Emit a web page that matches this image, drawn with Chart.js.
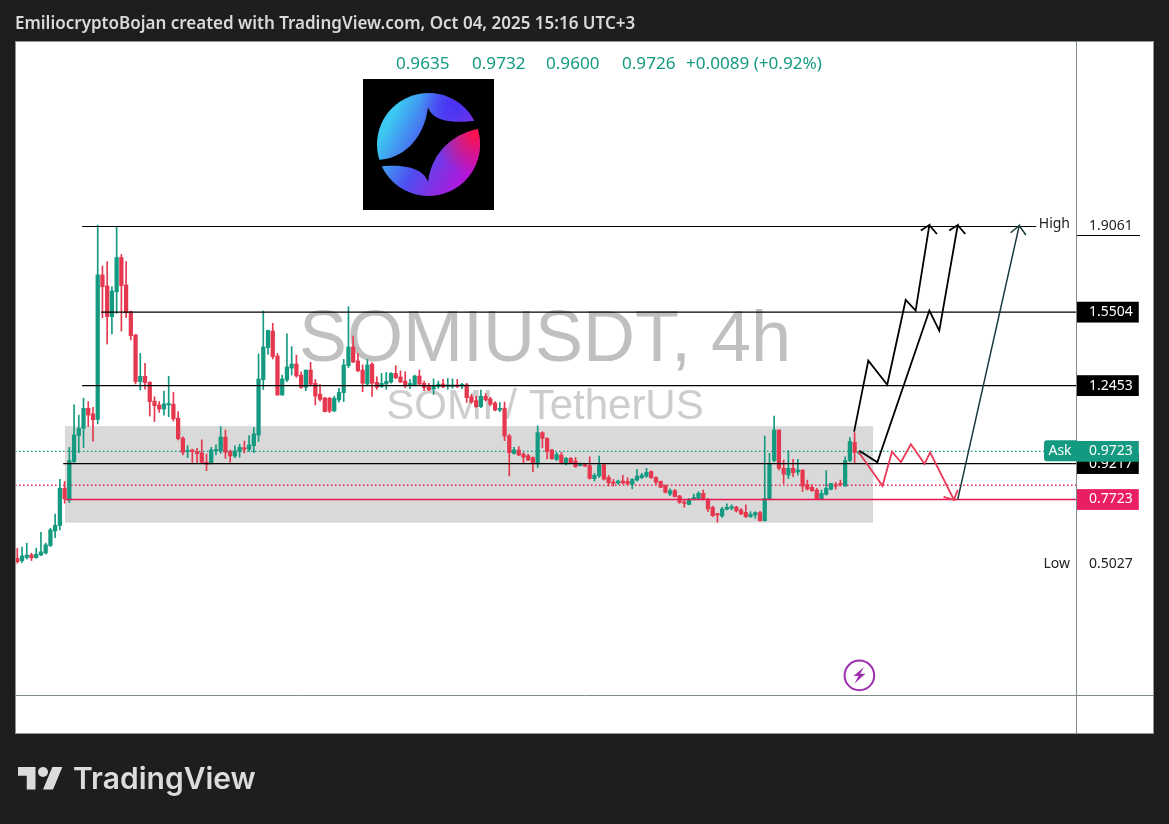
<!DOCTYPE html>
<html>
<head>
<meta charset="utf-8">
<title>SOMIUSDT, 4h</title>
<script src="https://cdn.jsdelivr.net/npm/chart.js@4/dist/chart.umd.min.js"></script>
<style>
  html, body { margin: 0; padding: 0; background: #1e1e1e; }
  #wrap { position: relative; width: 1169px; height: 824px; overflow: hidden; font-family: "Noto Sans", sans-serif; }
  canvas { position: absolute; left: 0; top: 0; }
  .abs { position: absolute; white-space: nowrap; }
  #credit { left: 15px; top: 11px; font-size: 17px; font-weight: 600; color: #d9d9d9; line-height: 24px; }
  .ohlc { top: 51px; font-size: 17.1px; color: #149a80; line-height: 24px; }
  #brand { left: 73px; top: 758px; font-family: Inter, sans-serif; font-size: 30px; font-weight: 600; color: #dcdcdc; line-height: 40px; }
</style>
</head>
<body>
<div id="wrap">
  <canvas id="mainChart" width="1169" height="824"></canvas>
  <div class="abs" id="credit">EmiliocryptoBojan created with TradingView.com, Oct 04, 2025 15:16 UTC+3</div>
  <div class="abs ohlc" style="left:396px">0.9635</div>
  <div class="abs ohlc" style="left:472px">0.9732</div>
  <div class="abs ohlc" style="left:546px">0.9600</div>
  <div class="abs ohlc" style="left:622px">0.9726</div>
  <div class="abs ohlc" style="left:686px">+0.0089 (+0.92%)</div>

  <!-- token logo -->
  <svg class="abs" style="left:363px;top:79px" width="131" height="131" viewBox="363 79 131 131">
    <defs>
      <linearGradient id="lg" gradientUnits="userSpaceOnUse" x1="385" y1="130" x2="470" y2="175">
        <stop offset="0" stop-color="#3cc8f2"/>
        <stop offset="0.45" stop-color="#4c50f0"/>
        <stop offset="1" stop-color="#b812d8"/>
      </linearGradient>
      <radialGradient id="rg" gradientUnits="userSpaceOnUse" cx="476" cy="134" r="42">
        <stop offset="0" stop-color="#ff1048"/>
        <stop offset="1" stop-color="#ff1048" stop-opacity="0"/>
      </radialGradient>
      <radialGradient id="bg" gradientUnits="userSpaceOnUse" cx="455" cy="104" r="34">
        <stop offset="0" stop-color="#4a30f4"/>
        <stop offset="1" stop-color="#4a30f4" stop-opacity="0"/>
      </radialGradient>
      <clipPath id="low"><rect x="363" y="124" width="131" height="86"/></clipPath>
    </defs>
    <rect x="363" y="79" width="131" height="131" fill="#000"/>
    <circle cx="428.5" cy="144.5" r="51.5" fill="url(#lg)"/>
    <circle cx="428.5" cy="144.5" r="51.5" fill="url(#bg)"/>
    <circle cx="428.5" cy="144.5" r="51.5" fill="url(#rg)" clip-path="url(#low)"/>
    <path d="M428 107 C432 119 446 125 482 120 L482 128 C456 132 432 150 428 182 C424 170 408 163 376 167 L376 160 C402 160 424 140 428 107 Z" fill="#000"/>
  </svg>

  <!-- lightning mark -->
  <svg class="abs" style="left:843px;top:659px" width="33" height="33" viewBox="0 0 33 33">
    <circle cx="16.4" cy="16.4" r="14.8" fill="#fff" stroke="#9c2fae" stroke-width="2"/>
    <path d="M21 8 L10.5 17 L15.5 17 L11.5 24.5 L22.5 14.8 L17.2 14.8 Z" fill="#9c2fae"/>
  </svg>

  <!-- TradingView mark -->
  <svg class="abs" style="left:18px;top:762px" width="45" height="35" viewBox="0 0 36 28">
    <path d="M14 22H7V11H0V4h14v18zM28 22h-8l7.5-18h8L28 22z" fill="#dcdcdc"/>
    <circle cx="20" cy="8" r="4" fill="#dcdcdc"/>
  </svg>
  <div class="abs" id="brand">TradingView</div>
</div>

<script>
// ——— DATA ———
const opens = [
  .528,.518,.531,.542,.531,.542,.550,.581,.642,.664,
  .819,.770,.930,1.038,1.068,1.151,1.128,1.105,1.705,1.659,
  1.532,1.635,1.777,1.663,1.552,1.456,1.262,1.284,1.259,1.181,
  1.165,1.148,1.165,1.168,1.110,1.027,.971,.977,.971,.966,
  .927,.923,.974,.974,1.032,.971,.953,.971,.985,.981,
  .996,1.040,1.270,1.403,1.472,1.368,1.206,1.269,1.318,1.335,
  1.289,1.238,1.310,1.255,1.210,1.194,1.193,1.140,1.186,1.216,
  1.328,1.406,1.348,1.310,1.252,1.334,1.259,1.241,1.252,1.260,
  1.296,1.281,1.264,1.248,1.246,1.285,1.255,1.241,1.231,1.241,
  1.252,1.242,1.242,1.248,1.244,1.249,1.199,1.183,1.158,1.201,
  1.190,1.173,1.144,1.152,1.036,.964,.978,.961,.954,.946,
  .920,1.050,1.026,.978,.939,.957,.920,.943,.932,.913,
  .916,.913,.859,.870,.916,.864,.844,.841,.849,.848,
  .835,.853,.863,.869,.888,.864,.848,.830,.795,.809,
  .787,.762,.752,.773,.774,.798,.773,.740,.709,.704,
  .732,.736,.741,.729,.719,.701,.708,.718,.684,.774,
  .934,1.061,.902,.874,.902,.887,.895,.835,.823,.812,
  .774,.794,.815,.833,.837,.828,.934,1.010,.9635
];
const closes = [
  .514,.538,.542,.530,.545,.555,.584,.646,.665,.819,
  .775,.934,1.040,1.068,1.151,1.123,1.104,1.705,1.656,1.532,
  1.638,1.777,1.660,1.548,1.453,1.262,1.284,1.258,1.179,1.162,
  1.148,1.169,1.169,1.107,1.025,.968,.977,.971,.963,.927,
  .919,.978,.978,1.032,.968,.953,.974,.989,.981,.999,
  1.045,1.273,1.406,1.474,1.366,1.206,1.273,1.323,1.335,1.285,
  1.238,1.310,1.251,1.202,1.188,1.137,1.140,1.193,1.217,1.331,
  1.406,1.343,1.307,1.255,1.331,1.255,1.238,1.255,1.263,1.296,
  1.278,1.260,1.244,1.252,1.285,1.252,1.237,1.228,1.244,1.252,
  1.240,1.245,1.245,1.242,1.248,1.195,1.177,1.158,1.201,1.186,
  1.168,1.144,1.151,1.036,.967,.978,.957,.948,.936,.925,
  1.050,1.026,.971,.942,.959,.923,.943,.925,.909,.918,
  .911,.860,.873,.916,.857,.842,.839,.849,.841,.837,
  .856,.869,.874,.885,.862,.844,.823,.802,.809,.784,
  .761,.756,.773,.781,.798,.773,.733,.705,.708,.733,
  .740,.741,.725,.712,.701,.711,.718,.684,.777,.923,
  1.061,.902,.878,.902,.884,.895,.828,.816,.809,.773,
  .798,.819,.839,.828,.833,.934,1.013,.968,.9726
];
const highs = [
  .570,.575,.591,.549,.570,.636,.591,.653,.712,.856,
  .847,.989,1.165,1.123,1.193,1.179,1.155,1.912,1.742,1.760,
  1.656,1.907,1.790,1.760,1.555,1.458,1.379,1.338,1.262,1.199,
  1.179,1.223,1.284,1.217,1.137,1.033,.996,.982,.985,1.020,
  .961,.989,.999,1.075,1.061,.978,.995,1.002,1.015,1.038,
  1.071,1.377,1.555,1.476,1.504,1.379,1.289,1.460,1.407,1.372,
  1.303,1.310,1.342,1.271,1.251,1.197,1.197,1.202,1.234,1.354,
  1.573,1.451,1.379,1.331,1.354,1.341,1.282,1.296,1.300,1.299,
  1.328,1.307,1.303,1.271,1.289,1.310,1.264,1.255,1.273,1.264,
  1.271,1.275,1.273,1.271,1.255,1.255,1.209,1.202,1.227,1.213,
  1.197,1.179,1.175,1.177,1.043,.989,.992,.967,.960,.950,
  1.078,1.054,1.029,.981,.968,.968,.947,.947,.947,.925,
  .920,.950,.881,.953,.918,.873,.856,.853,.873,.863,
  .859,.898,.881,.902,.892,.867,.849,.833,.817,.815,
  .790,.770,.777,.795,.805,.812,.777,.745,.715,.740,
  .754,.750,.744,.736,.750,.722,.722,.723,1.036,.964,
  1.119,1.061,.936,.975,.939,.939,.895,.853,.833,.819,
  .812,.892,.839,.844,.853,.950,1.030,1.050,.9732
];
const lows = [
  .508,.510,.525,.519,.528,.539,.546,.577,.614,.646,
  .757,.759,.923,.967,.988,1.075,1.015,1.086,1.527,1.418,
  1.460,1.545,1.472,1.527,1.435,1.252,1.227,1.231,1.119,1.096,
  1.134,1.123,1.116,1.098,1.020,.957,.946,.923,.923,.923,
  .892,.919,.957,.964,.943,.927,.946,.948,.966,.971,
  .967,1.013,1.229,1.375,1.356,1.206,1.206,1.262,1.289,1.280,
  1.234,1.224,1.244,1.165,1.181,1.136,1.133,1.137,1.177,1.179,
  1.320,1.341,1.303,1.220,1.244,1.200,1.230,1.238,1.230,1.255,
  1.274,1.258,1.237,1.233,1.244,1.248,1.224,1.224,1.208,1.234,
  1.237,1.230,1.234,1.237,1.233,1.175,1.172,1.155,1.154,1.181,
  1.161,1.140,1.137,1.017,.870,.961,.954,.923,.934,.888,
  .905,.988,.941,.939,.934,.920,.916,.923,.906,.911,
  .909,.857,.849,.864,.853,.828,.828,.835,.837,.834,
  .817,.849,.859,.864,.860,.833,.822,.799,.788,.783,
  .756,.740,.750,.770,.773,.770,.722,.701,.678,.698,
  .729,.729,.720,.709,.697,.698,.694,.682,.683,.773,
  .929,.895,.839,.859,.867,.874,.805,.812,.806,.772,
  .772,.790,.812,.815,.828,.828,.929,.923,.96
];

// horizontal levels, start bar of each, last bar
const levelPrices = [1.9061, 1.5504, 1.2453, 0.9217, 0.7723];
const levelStart = [13.7, 17.7, 13.7, 9.7, 10.3];
const levelEnd = [215.4, 223.8, 223.8, 223.8, 223.8];
const levelColors = ['#000000', '#000000', '#000000', '#000000', '#e8174f'];
const levelWidths = [1.2, 1.2, 1.2, 1.2, 1.6];

// dotted price lines
const askPrice = 0.9723;
const bidPrice = 0.8314;

// grey zone: bar range, price range
const zoneBars = [10.07, 180.9];
const zonePrices = [0.676, 1.077];

// hand drawn paths, bar index + price
const pathABars = [176.9, 179.9, 183.9, 187.8, 189.9, 192.8, 191.0, 192.8, 194.4];
const pathAPrices = [1.054, 1.349, 1.249, 1.601, 1.557, 1.912, 1.889, 1.912, 1.875];
const pathBBars = [178.0, 181.8, 192.8, 194.9, 198.8, 197.0, 198.8, 200.4];
const pathBPrices = [0.975, 0.927, 1.557, 1.474, 1.912, 1.889, 1.912, 1.875];
const pathCBars = [198.8, 211.8, 210.0, 211.8, 213.2];
const pathCPrices = [0.773, 1.910, 1.880, 1.910, 1.871];
const pathRedBars = [177.8, 182.9, 184.9, 186.8, 188.9, 191.8, 192.96, 198.0, 195.8, 198.0, 198.8];
const pathRedPrices = [0.971, 0.829, 0.971, 0.927, 1.002, 0.920, 0.968, 0.771, 0.783, 0.771, 0.812];

// axis labels
const tickValues = [1.9061, 1.5504, 1.2453, 0.9217, 0.7723, 0.5027, 0.9723];
const tickTexts = ['1.9061', '1.5504', '1.2453', '0.9217', '0.7723', '0.5027', '0.9723'];
const tickBacks = ['', '#000000', '#000000', '#000000', '#e91e63', '', '#149a80'];
const highPrice = 1.9061;
const lowPrice = 0.5027;

const GREEN = '#149a80';
const RED = '#e5384f';

// ——— HELPERS ———
function xy(xs, ys) {
    return xs.map((x, i) => ({ x, y: ys[i] }));
}

function lineSet(data, color, width, order, dash) {
    return {
        type: 'line',
        data,
        borderColor: color,
        borderWidth: width,
        borderDash: dash || [],
        pointRadius: 0,
        tension: 0,
        fill: false,
        order
    };
}

// ——— PLUGIN: panel, zone, watermark, side labels ———
const chrome = {
    id: 'chrome',
    beforeDraw(chart) {
        const c = chart.ctx;
        c.save();
        c.fillStyle = '#ffffff';
        c.fillRect(15, 41, 1139, 693);
        c.restore();
    },
    beforeDatasetsDraw(chart) {
        const c = chart.ctx, x = chart.scales.x, y = chart.scales.y;
        c.save();
        c.textAlign = 'center';
        c.textBaseline = 'alphabetic';
        c.fillStyle = '#c0c0c0';
        c.font = '72px "Liberation Sans"';
        c.fillText('SOMIUSDT, 4h', 545, 361);
        c.fillStyle = '#cdcdcd';
        c.font = '42px "Liberation Sans"';
        c.fillText('SOMI / TetherUS', 545, 419);

        const zx = x.getPixelForValue(zoneBars[0]), zr = x.getPixelForValue(zoneBars[1]);
        const zt = y.getPixelForValue(zonePrices[1]), zb = y.getPixelForValue(zonePrices[0]);
        c.fillStyle = '#d9d9d9';
        c.fillRect(zx, zt, zr - zx, zb - zt);
        c.restore();
    },
    afterDraw(chart) {
        const c = chart.ctx, y = chart.scales.y, a = chart.chartArea;
        c.save();
        // panel frame and axis lines
        c.strokeStyle = '#8f9494';
        c.lineWidth = 1;
        c.strokeRect(15.5, 41.5, 1138, 692);
        c.strokeStyle = '#7f8c8c';
        c.beginPath();
        c.moveTo(a.right + 0.5, 41);
        c.lineTo(a.right + 0.5, 733);
        c.moveTo(15, a.bottom + 0.5);
        c.lineTo(1154, a.bottom + 0.5);
        c.stroke();

        // Ask tag
        const ay = y.getPixelForValue(askPrice) - 0.5;
        c.fillStyle = GREEN;
        c.beginPath();
        c.roundRect(1044, ay - 10.5, 33, 21, [3, 0, 0, 3]);
        c.fill();
        c.font = '14px "Noto Sans"';
        c.textBaseline = 'middle';
        c.textAlign = 'center';
        c.fillStyle = '#ffffff';
        c.fillText('Ask', 1060, ay);

        // High / Low
        c.textAlign = 'right';
        c.fillStyle = '#222222';
        c.fillText('High', 1070, y.getPixelForValue(highPrice) - 2);
        c.fillText('Low', 1070, y.getPixelForValue(lowPrice));

        // underline of the high tag
        c.strokeStyle = '#000000';
        c.beginPath();
        c.moveTo(1077, y.getPixelForValue(highPrice) + 9);
        c.lineTo(1140, y.getPixelForValue(highPrice) + 9);
        c.stroke();
        c.restore();
    }
};

// ——— CHART ———
const barIdx = opens.map((_, i) => i);
const ctx = document.getElementById('mainChart').getContext('2d');

const datasets = [
    {
        type: 'bar',
        data: barIdx.map(i => ({ x: i, y: [lows[i], highs[i]] })),
        backgroundColor: barIdx.map(i => closes[i] >= opens[i] ? GREEN : RED),
        barThickness: 1,
        grouped: false,
        order: 6
    },
    {
        type: 'bar',
        data: barIdx.map(i => ({ x: i, y: [opens[i], closes[i]] })),
        backgroundColor: barIdx.map(i => closes[i] >= opens[i] ? GREEN : RED),
        barThickness: 3.6,
        minBarLength: 1.5,
        grouped: false,
        order: 5
    },
    lineSet(xy([-0.486, 223.8], [askPrice, askPrice]), '#089981', 1.4, 7, [1.5, 2.5]),
    lineSet(xy([-0.486, 223.8], [bidPrice, bidPrice]), '#f0204a', 1.4, 7, [1.5, 2.5])
];

levelPrices.forEach((p, i) => {
    datasets.push(lineSet(xy([levelStart[i], levelEnd[i]], [p, p]), levelColors[i], levelWidths[i], 4));
});

datasets.push(lineSet(xy(pathABars, pathAPrices), '#000000', 1.8, 2));
datasets.push(lineSet(xy(pathBBars, pathBPrices), '#000000', 1.8, 2));
datasets.push(lineSet(xy(pathCBars, pathCPrices), '#17393d', 1.5, 2));
datasets.push(lineSet(xy(pathRedBars, pathRedPrices), '#ea3a58', 1.8, 1));

new Chart(ctx, {
    type: 'bar',
    data: { datasets },
    options: {
        responsive: false,
        animation: false,
        events: [],
        layout: { padding: { left: 15, top: 41, right: 15, bottom: 91 } },
        plugins: { legend: { display: false }, tooltip: { enabled: false } },
        scales: {
            x: {
                type: 'linear',
                offset: false,
                min: -0.486,
                max: 223.8,
                grid: { display: false, offset: false, drawTicks: false },
                border: { display: false },
                ticks: { display: false },
                afterFit: s => { s.height = 38; }
            },
            y: {
                type: 'linear',
                position: 'right',
                min: -0.0395,
                max: 2.6764,
                grid: { display: false, drawTicks: false },
                border: { display: false },
                afterBuildTicks: s => { s.ticks = tickValues.map(value => ({ value })); },
                afterFit: s => { s.width = 78; },
                ticks: {
                    autoSkip: false,
                    padding: 13,
                    crossAlign: 'near',
                    font: { family: '"Noto Sans"', size: 14 },
                    callback: v => tickTexts[tickValues.indexOf(v)],
                    color: c => tickBacks[tickValues.indexOf(c.tick.value)] ? '#ffffff' : '#222222',
                    showLabelBackdrop: c => !!tickBacks[tickValues.indexOf(c.tick.value)],
                    backdropColor: c => tickBacks[tickValues.indexOf(c.tick.value)] || 'rgba(0,0,0,0)',
                    backdropPadding: { left: 12, right: 6, top: 2, bottom: 2 }
                }
            }
        }
    },
    plugins: [chrome]
});
</script>
</body>
</html>
